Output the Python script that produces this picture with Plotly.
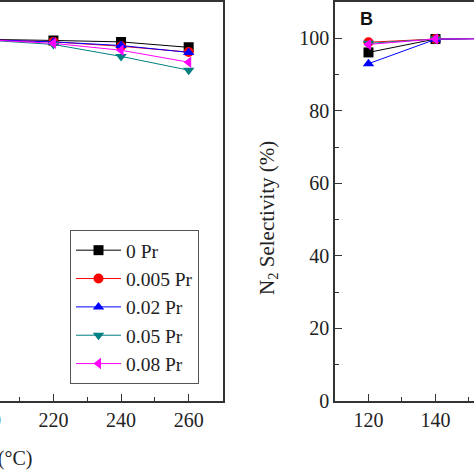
import plotly.graph_objects as go

temps = [120, 140, 160, 180, 200, 220, 240, 260]
series_names = ["0 Pr", "0.005 Pr", "0.02 Pr", "0.05 Pr", "0.08 Pr"]
colors = ["#000000", "#ff0000", "#0000ff", "#008080", "#ff00ff"]
symbols = ["square", "circle", "triangle-up", "triangle-down", "triangle-left"]

# Panel A (left, only right part visible)
conv_0 = [100, 100, 100, 100, 99.7, 99.4, 99.0, 97.5]
conv_005 = [100, 100, 100, 100, 99.6, 99.0, 97.8, 96.2]
conv_002 = [100, 100, 100, 100, 99.6, 99.0, 98.0, 96.1]
conv_005b = [100, 100, 100, 100, 99.5, 98.3, 95.0, 91.2]
conv_008 = [100, 100, 100, 100, 99.6, 98.6, 96.7, 93.4]
panel_a = [conv_0, conv_005, conv_002, conv_005b, conv_008]

# Panel B: N2 selectivity
sel_0 = [96.1, 99.8, 100, 100, 100, 100, 100, 100]
sel_005 = [98.9, 99.8, 100, 100, 100, 100, 100, 100]
sel_002 = [93.0, 99.7, 100, 100, 100, 100, 100, 100]
sel_005b = [98.6, 99.8, 100, 100, 100, 100, 100, 100]
sel_008 = [98.3, 99.8, 99.9, 100, 100, 100, 100, 100]
panel_b = [sel_0, sel_005, sel_002, sel_005b, sel_008]

FONT = "Liberation Serif"
fig = go.Figure()

for i, name in enumerate(series_names):
    fig.add_trace(go.Scatter(
        x=temps, y=panel_a[i], name=name, mode="lines+markers",
        line=dict(color=colors[i], width=1),
        marker=dict(symbol=symbols[i], size=10, color=colors[i]),
        xaxis="x", yaxis="y", showlegend=True))
for i, name in enumerate(series_names):
    fig.add_trace(go.Scatter(
        x=temps, y=panel_b[i], name=name, mode="lines+markers",
        line=dict(color=colors[i], width=1),
        marker=dict(symbol=symbols[i], size=10, color=colors[i]),
        xaxis="x2", yaxis="y2", showlegend=False))

W = 474.0
H = 474.0
ydom = [(H - 401) / H, (H - 2) / H]

axis_common = dict(showgrid=False, zeroline=False, linecolor="#333333", linewidth=1.5,
                   automargin=False,
                   tickfont=dict(family=FONT, size=20, color="#222222"))

fig.update_layout(
    width=474, height=474, margin=dict(l=0, r=0, t=0, b=0, autoexpand=False),
    paper_bgcolor="white", plot_bgcolor="white",
    showlegend=True,
    xaxis=dict(domain=[0, 222.5 / W], range=[204.2, 270], anchor="y",
               tickvals=[200, 220, 240, 260], ticks="inside", ticklen=7, tickwidth=1.3,
               tickcolor="#333333",
               minor=dict(tickvals=[210, 230, 250], ticks="inside", ticklen=4, tickwidth=1.3,
                          tickcolor="#333333"),
               showline=True, mirror=True, **axis_common),
    yaxis=dict(domain=ydom, range=[0, 110], anchor="x", side="right",
               showticklabels=False, ticks="", showline=True, mirror=False, automargin=False,
               showgrid=False, zeroline=False, linecolor="#333333", linewidth=1.5),
    xaxis2=dict(domain=[335 / W, 1], range=[110, 151.5], anchor="y2",
                tickvals=[120, 140, 160], ticks="inside", ticklen=7, tickwidth=1.3,
                tickcolor="#333333",
                minor=dict(tickvals=[130, 150], ticks="inside", ticklen=4, tickwidth=1.3,
                           tickcolor="#333333"),
                showline=True, mirror=True, **axis_common),
    yaxis2=dict(domain=ydom, range=[0, 110], anchor="x2",
                tickvals=[0, 20, 40, 60, 80, 100], ticks="inside", ticklen=7, tickwidth=1.3,
                tickcolor="#333333",
                minor=dict(tickvals=[10, 30, 50, 70, 90], ticks="inside", ticklen=4,
                           tickwidth=1.3, tickcolor="#333333"),
                showline=True, mirror=False, **axis_common),
    legend=dict(x=70 / W, y=(H - 230) / H, xanchor="left", yanchor="top",
                bgcolor="white", bordercolor="#555555", borderwidth=1,
                font=dict(family=FONT, size=19.5, color="#222222"),
                itemwidth=45, tracegroupgap=0),
)

fig.add_annotation(text="Temperature (°C)", x=34 / W, y=(H - 458) / H, xref="paper", yref="paper",
                   xanchor="right", yanchor="middle", showarrow=False,
                   font=dict(family=FONT, size=20, color="#222222"))
fig.add_annotation(text="200", x=-14 / W, y=(H - 420) / H, xref="paper", yref="paper",
                   xanchor="center", yanchor="middle", showarrow=False,
                   font=dict(family=FONT, size=20, color="#222222"))
fig.add_annotation(text="N<sub>2</sub> Selectivity (%)", x=268 / W, y=(H - 218) / H,
                   xref="paper", yref="paper", textangle=-90,
                   xanchor="center", yanchor="middle", showarrow=False,
                   font=dict(family=FONT, size=21, color="#222222"))
fig.add_annotation(text="<b>B</b>", x=366 / W, y=(H - 18.5) / H, xref="paper", yref="paper",
                   xanchor="center", yanchor="middle", showarrow=False,
                   font=dict(family="Liberation Sans", size=18, color="#111111"))

fig.write_html("out.html")
